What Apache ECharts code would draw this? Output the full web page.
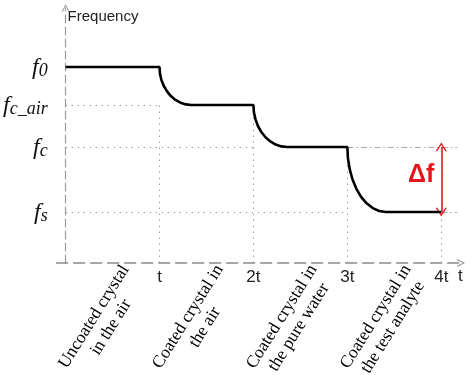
<!DOCTYPE html>
<html>
<head>
<meta charset="utf-8">
<script src="https://cdn.jsdelivr.net/npm/echarts@6/dist/echarts.min.js"></script>
<style>
  html, body { margin: 0; padding: 0; background: #fff; }
  #main { width: 474px; height: 375px; }
</style>
</head>
<body>
<div id="main"></div>
<script>
// frequency levels (f0, fc_air, fc, fs) in arbitrary units
var levelValues = [196, 158, 116, 51];
var levelSubs = ['0', 'c_air', 'c', 's'];

// time axis
var timeTicks = [1, 2, 3, 4];
var timeLabels = ['t', '2t', '3t', '4t'];
var stageMids = [0.5, 1.5, 2.5, 3.5];
var stageLabels = [
    'Uncoated crystal\nin the air',
    'Coated crystal in\nthe air',
    'Coated crystal in\nthe pure water',
    'Coated crystal in\nthe test analyte'
];

// frequency response
var curveX = [0, 1,
    1.005, 1.020, 1.046, 1.080, 1.121, 1.170, 1.224, 1.281, 1.340,
    2, 2.005, 2.022, 2.048, 2.084, 2.129, 2.180, 2.237, 2.297, 2.360,
    3, 3.006, 3.025, 3.055, 3.096, 3.146, 3.205, 3.270, 3.339, 3.410,
    4];
var curveY = [196, 196,
    189.4, 183.0, 177.0, 171.6, 166.9, 163.1, 160.3, 158.6, 158,
    158, 150.7, 143.6, 137.0, 131.0, 125.8, 121.6, 118.5, 116.6, 116,
    116, 104.7, 93.8, 83.5, 74.2, 66.2, 59.7, 54.9, 52.0, 51,
    51];

// dotted guides: vertical lines up to these levels, horizontal lines up to these times
var verticalTops = [158, 158, 116, 51];
var horizontalEnds = [1, 2, 3];      // for fc_air, fc, fs
var extensionStart = [3, 4];         // fc, fs after their step
var extensionEnd = 4.17;

var myChart = echarts.init(document.getElementById('main'));

var curveData = curveX.map(function (x, i) { return [x, curveY[i]]; });

var guideLines = [];
timeTicks.forEach(function (t, i) {
    guideLines.push([{ coord: [t, 0] }, { coord: [t, verticalTops[i]] }]);
});
horizontalEnds.forEach(function (end, i) {
    var lv = levelValues[i + 1];
    guideLines.push([{ coord: [0, lv] }, { coord: [end, lv] }]);
});

var extLines = extensionStart.map(function (s, i) {
    var lv = levelValues[i + 2];
    return [{ coord: [s, lv] }, { coord: [extensionEnd, lv] }];
});

var chevron = 'path://M0,10 L5,0 L10,10 L8.8,10.6 L5,2.6 L1.2,10.6 Z';

myChart.setOption({
    animation: false,
    backgroundColor: '#fff',
    grid: { left: 52, right: 13, top: 8, bottom: 112 },
    xAxis: {
        type: 'value',
        min: -0.095,
        max: 4.21,
        name: 't',
        nameLocation: 'end',
        nameGap: -3,
        nameTextStyle: {
            fontFamily: 'Liberation Sans', fontSize: 17, color: '#222',
            align: 'left', verticalAlign: 'top', padding: [5, 0, 0, 0]
        },
        axisLine: {
            lineStyle: { color: '#8a8a8a', width: 1.5, type: [11, 6] },
            symbol: ['none', chevron],
            symbolSize: [9, 8]
        },
        axisTick: { show: false },
        splitLine: { show: false },
        axisLabel: {
            customValues: timeTicks,
            margin: 6,
            fontFamily: 'Liberation Sans',
            fontSize: 17,
            color: '#222',
            formatter: function (v) {
                return timeLabels[timeTicks.indexOf(v)];
            }
        }
    },
    yAxis: {
        type: 'value',
        min: 0,
        max: 255,
        name: 'Frequency',
        nameLocation: 'end',
        nameGap: -9,
        nameTextStyle: {
            fontFamily: 'Liberation Sans', fontSize: 15, color: '#222',
            align: 'left', verticalAlign: 'middle', padding: [0, 0, 0, 2]
        },
        axisLine: {
            lineStyle: { color: '#9a9a9a', width: 1.2, type: [8, 4] },
            symbol: ['none', chevron],
            symbolSize: [9, 8]
        },
        axisTick: { show: false },
        splitLine: { show: false },
        axisLabel: {
            customValues: levelValues,
            margin: 9,
            formatter: function (v) {
                var sub = levelSubs[levelValues.indexOf(v)];
                return '{f|f}{s|' + sub + '}';
            },
            rich: {
                f: {
                    fontFamily: 'Liberation Serif', fontStyle: 'italic',
                    fontSize: 24, color: '#111', verticalAlign: 'bottom', lineHeight: 26
                },
                s: {
                    fontFamily: 'Liberation Serif', fontStyle: 'italic',
                    fontSize: 18, color: '#111', verticalAlign: 'bottom', lineHeight: 22
                }
            }
        }
    },
    series: [
        {
            // dotted guides
            type: 'line',
            data: [],
            silent: true,
            markLine: {
                silent: true,
                symbol: 'none',
                animation: false,
                label: { show: false },
                lineStyle: { color: '#a0a0a0', width: 1, type: [1.5, 4.5] },
                data: guideLines
            }
        },
        {
            // dash-dot extensions on the right
            type: 'line',
            data: [],
            silent: true,
            markLine: {
                silent: true,
                symbol: 'none',
                animation: false,
                label: { show: false },
                lineStyle: { color: '#a8a8a8', width: 1, type: [6, 3, 1.5, 3] },
                data: extLines
            }
        },
        {
            name: 'frequency',
            type: 'line',
            data: curveData,
            showSymbol: false,
            symbol: 'none',
            lineStyle: { color: '#000', width: 2.6 },
            z: 5
        },
        {
            // delta f arrow
            type: 'line',
            data: [],
            silent: true,
            markLine: {
                silent: true,
                animation: false,
                symbol: [chevron, chevron],
                symbolSize: [11, 9],
                label: { show: false },
                lineStyle: { color: '#e8141b', width: 1.6, type: 'solid' },
                data: [[{ coord: [4, levelValues[2]] }, { coord: [4, levelValues[3]] }]]
            }
        }
    ]
});

// rotated stage labels under the time axis
var graphics = stageMids.map(function (m, i) {
    var p = myChart.convertToPixel({ gridIndex: 0 }, [m, 0]);
    return {
        type: 'text',
        x: p[0] - 10,
        y: p[1] + 59,
        rotation: 58 * Math.PI / 180,
        style: {
            text: stageLabels[i],
            align: 'center',
            verticalAlign: 'middle',
            fontFamily: 'Liberation Serif',
            fontSize: 17.5,
            lineHeight: 20,
            fill: '#000'
        }
    };
});

// delta f label next to the arrow
var mid = myChart.convertToPixel({ gridIndex: 0 }, [4, (levelValues[2] + levelValues[3]) / 2]);
graphics.push({
    type: 'text',
    x: mid[0] - 7,
    y: mid[1] - 4,
    style: {
        text: '\u0394f',
        align: 'right',
        verticalAlign: 'middle',
        fontFamily: 'Liberation Sans',
        fontWeight: 'bold',
        fontSize: 25,
        fill: '#e8141b'
    }
});
myChart.setOption({ graphic: graphics });
</script>
</body>
</html>
